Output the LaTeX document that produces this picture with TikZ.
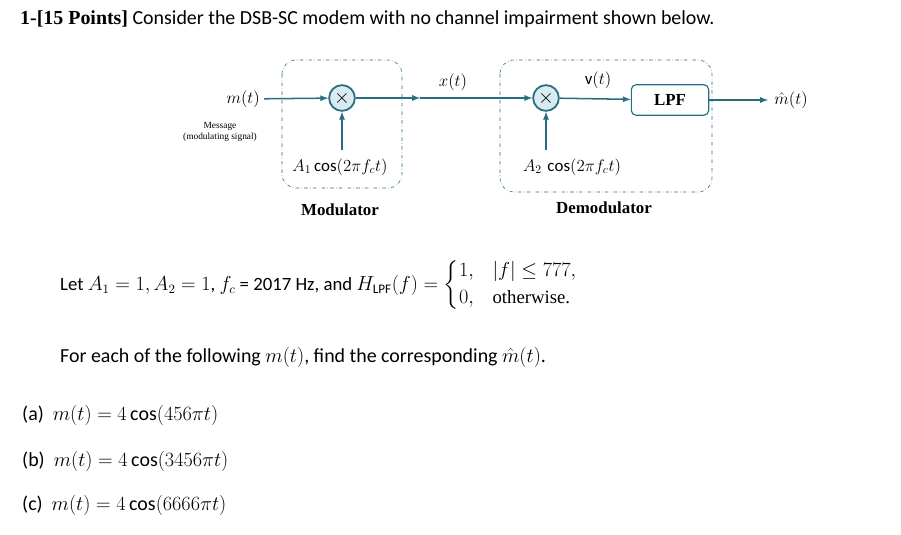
\documentclass[tikz,border=0pt]{standalone}
\usepackage{fontspec}
\usepackage{amsmath}
\setmainfont{Carlito}
\newfontfamily\serifrm{Liberation Serif}
\usetikzlibrary{positioning}
\definecolor{teal1}{RGB}{40,110,130}
\definecolor{mixfill}{RGB}{215,235,240}
\tikzset{
  sig/.style={teal1, line width=1.3pt, -latex},
  mixer/.style={circle, draw=teal1, line width=1.5pt, fill=mixfill, minimum size=22pt, inner sep=0pt},
  block/.style={rectangle, rounded corners=4pt, draw=teal1, line width=1pt, minimum width=66pt, minimum height=26pt, font=\serifrm\bfseries\Large},
  group/.style={draw=teal1, dash dot, rounded corners=12pt, line width=0.5pt},
}
\begin{document}
\begin{tikzpicture}[x=0.03cm, y=-0.03cm, font=\fontsize{17}{20}\selectfont]
        \useasboundingbox (0,0) rectangle (901,534);

        % title
        \node[anchor=west, inner sep=0pt] (title) at (20,19) {{\serifrm\bfseries 1-[15 Points]} Consider the DSB-SC modem with no channel impairment shown below.};

        % dashed groups
        \draw[group] (282,60) rectangle (402,188);
        \draw[group] (500,60) rectangle (712,192);

        % blocks
        \node[mixer] (mixa) at (342,98) {$\times$};
        \node[mixer] (mixb) at (546,98) {$\times$};
        \node[block] (lpf) at (670,100) {LPF};

        % signals
        \node[anchor=east] (msg) at (264,99) {\Large $m(t)$};
        \node[anchor=west, inner sep=1pt] (mhat) at (773,100) {\Large $\hat{m}(t)$};
        \coordinate (xmid) at (420,98);
        \coordinate (carra) at (342,150);
        \coordinate (carrb) at (546,150);
        \coordinate (mend) at (768,100);

        % labels
        \node[font=\serifrm\footnotesize, align=center, inner sep=0pt] (msglbl) at (220,132) {Message\\(modulating signal)};
        \node (cara) at (340,167) {\Large $A_1\cos(2\pi f_c t)$};
        \node (carb) at (572,167) {\Large $A_2\,\cos(2\pi f_c t)$};
        \node (xlbl) at (453,82) {\Large $x(t)$};
        \node (vlbl) at (598,80) {\Large $\mathrm{v}(t)$};
        \node[font=\serifrm\bfseries\Large] (modlbl) at (340,210) {Modulator};
        \node[font=\serifrm\bfseries\Large] (demlbl) at (604,208) {Demodulator};

        % connectors
        \draw[sig] (msg) -- (mixa);
        \draw[sig] (mixa) -- (xmid);
        \draw[sig] (xmid) -- (mixb);
        \draw[sig] (carra) -- (mixa);
        \draw[sig] (carrb) -- (mixb);
        \draw[sig] (mixb) -- (lpf);
        \draw[sig] (lpf) -- (mend);

        % problem text
        \node[anchor=west, inner sep=0pt, font=\fontsize{16}{19}\selectfont] (given) at (60,285) {Let $A_1=1, A_2=1$, $f_c$ = 2017 Hz, and $H_{\mathrm{LPF}}(f)=\begin{cases}1, & |f|\le 777,\\ 0, & \text{\serifrm otherwise.}\end{cases}$};
        \node[anchor=west, inner sep=0pt] (ask) at (60,357) {For each of the following $m(t)$, find the corresponding $\hat{m}(t)$.};
        \node[anchor=west, inner sep=0pt] (pa) at (22,415) {(a)\ \ $m(t)=4\cos(456\pi t)$};
        \node[anchor=west, inner sep=0pt] (pb) at (22,461) {(b)\ \ $m(t)=4\cos(3456\pi t)$};
        \node[anchor=west, inner sep=0pt] (pc) at (22,505) {(c)\ \ $m(t)=4\cos(6666\pi t)$};
\end{tikzpicture}
\end{document}
